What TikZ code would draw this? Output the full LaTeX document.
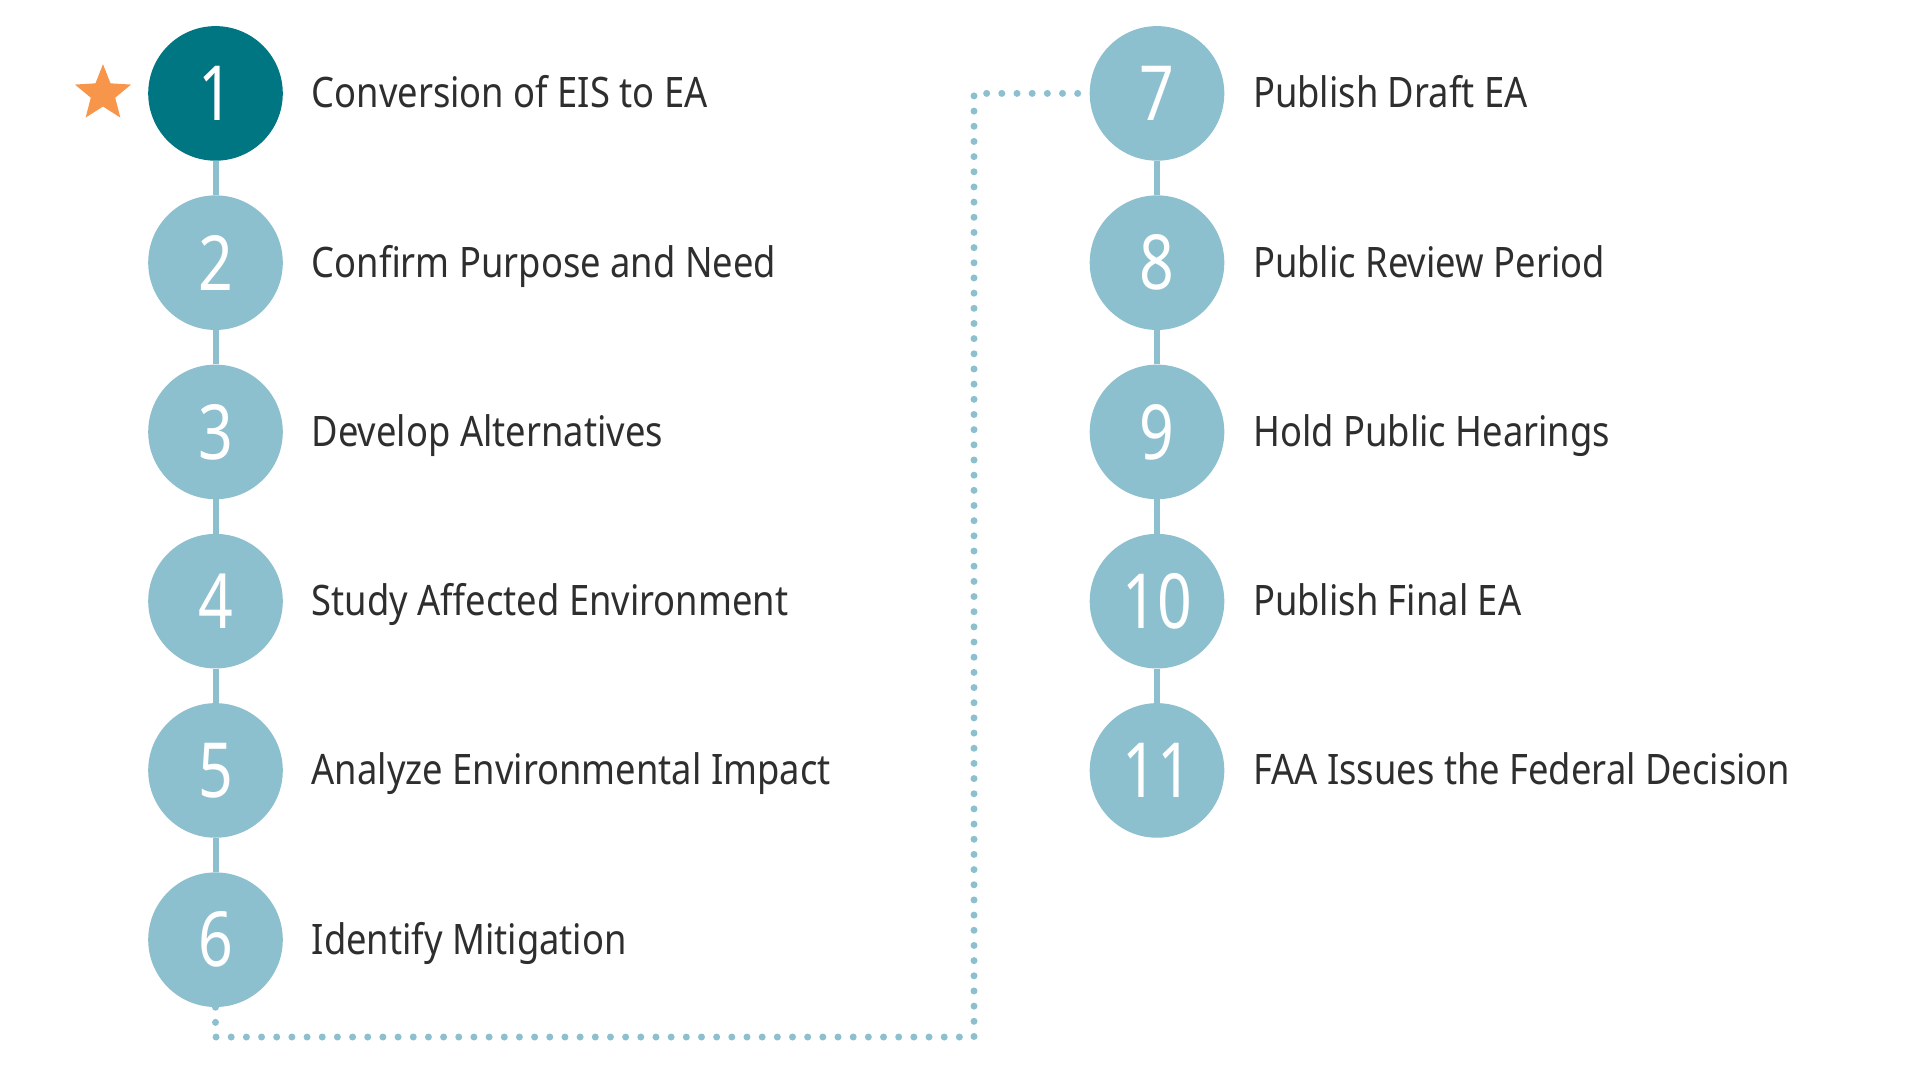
\documentclass[tikz,border=0pt]{standalone}
\usepackage{fontspec}
\setmainfont{Noto Sans}
\newfontfamily\lblfont[FakeStretch=0.865]{Noto Sans}
\newfontfamily\numfont[FakeStretch=0.8]{Noto Sans}
\usetikzlibrary{shapes.geometric,backgrounds}
\definecolor{darkteal}{RGB}{0,118,130}
\definecolor{lightteal}{RGB}{141,192,206}
\definecolor{starorange}{RGB}{247,150,74}
\definecolor{txtgray}{RGB}{46,46,46}
\begin{document}
\begin{tikzpicture}[x=1pt,y=-1pt,
  stepcircle/.style={circle, minimum size=134.6pt, inner sep=0pt, fill=lightteal, text=white, font=\numfont\fontsize{76}{76}\selectfont},
  firstcircle/.style={stepcircle, fill=darkteal},
  lbl/.style={anchor=base west, inner sep=0pt, text=txtgray, font=\lblfont\fontsize{42}{50}\selectfont},
  link/.style={draw=lightteal, line width=6pt},
  dotlink/.style={draw=lightteal, line width=7pt, line cap=round, dash pattern=on 0pt off 15.17pt},
  starmark/.style={star, star points=5, star point ratio=2.3, minimum size=59pt, inner sep=0pt, fill=starorange}]
\useasboundingbox (0,0) rectangle (1920,1080);
% left column
\node[firstcircle] (c1) at (215.5,93.4) {1};
\node[stepcircle] (c2) at (215.5,262.66) {2};
\node[stepcircle] (c3) at (215.5,431.92) {3};
\node[stepcircle] (c4) at (215.5,601.18) {4};
\node[stepcircle] (c5) at (215.5,770.44) {5};
\node[stepcircle] (c6) at (215.5,939.7) {6};
% right column
\node[stepcircle] (c7) at (1157,93.4) {7};
\node[stepcircle] (c8) at (1157,262.66) {8};
\node[stepcircle] (c9) at (1157,431.92) {9};
\node[stepcircle] (c10) at (1157,601.18) {10};
\node[stepcircle] (c11) at (1157,770.44) {11};
% star
\node[starmark] (star) at (103,93.7) {};
% labels
\node[lbl] (t1) at ([shift={(96,14.5)}]c1.center) {Conversion of EIS to EA};
\node[lbl] (t2) at ([shift={(96,14.5)}]c2.center) {Confirm Purpose and Need};
\node[lbl] (t3) at ([shift={(96,14.5)}]c3.center) {Develop Alternatives};
\node[lbl] (t4) at ([shift={(96,14.5)}]c4.center) {Study Affected Environment};
\node[lbl] (t5) at ([shift={(96,14.5)}]c5.center) {Analyze Environmental Impact};
\node[lbl] (t6) at ([shift={(96,14.5)}]c6.center) {Identify Mitigation};
\node[lbl] (t7) at ([shift={(96,14.5)}]c7.center) {Publish Draft EA};
\node[lbl] (t8) at ([shift={(96,14.5)}]c8.center) {Public Review Period};
\node[lbl] (t9) at ([shift={(96,14.5)}]c9.center) {Hold Public Hearings};
\node[lbl] (t10) at ([shift={(96,14.5)}]c10.center) {Publish Final EA};
\node[lbl] (t11) at ([shift={(96,14.5)}]c11.center) {FAA Issues the Federal Decision};
% connectors
\coordinate (turnA) at (974,1037);
\coordinate (turnB) at (974,93.4);
\begin{scope}[on background layer]
\draw[link] (c1) -- (c2);
\draw[link] (c2) -- (c3);
\draw[link] (c3) -- (c4);
\draw[link] (c4) -- (c5);
\draw[link] (c5) -- (c6);
\draw[link] (c7) -- (c8);
\draw[link] (c8) -- (c9);
\draw[link] (c9) -- (c10);
\draw[link] (c10) -- (c11);
\draw[dotlink] (c6.south) -- (c6.south |- turnA) -- (turnA) -- (turnB) -- (c7.west);
\end{scope}
\end{tikzpicture}
\end{document}
